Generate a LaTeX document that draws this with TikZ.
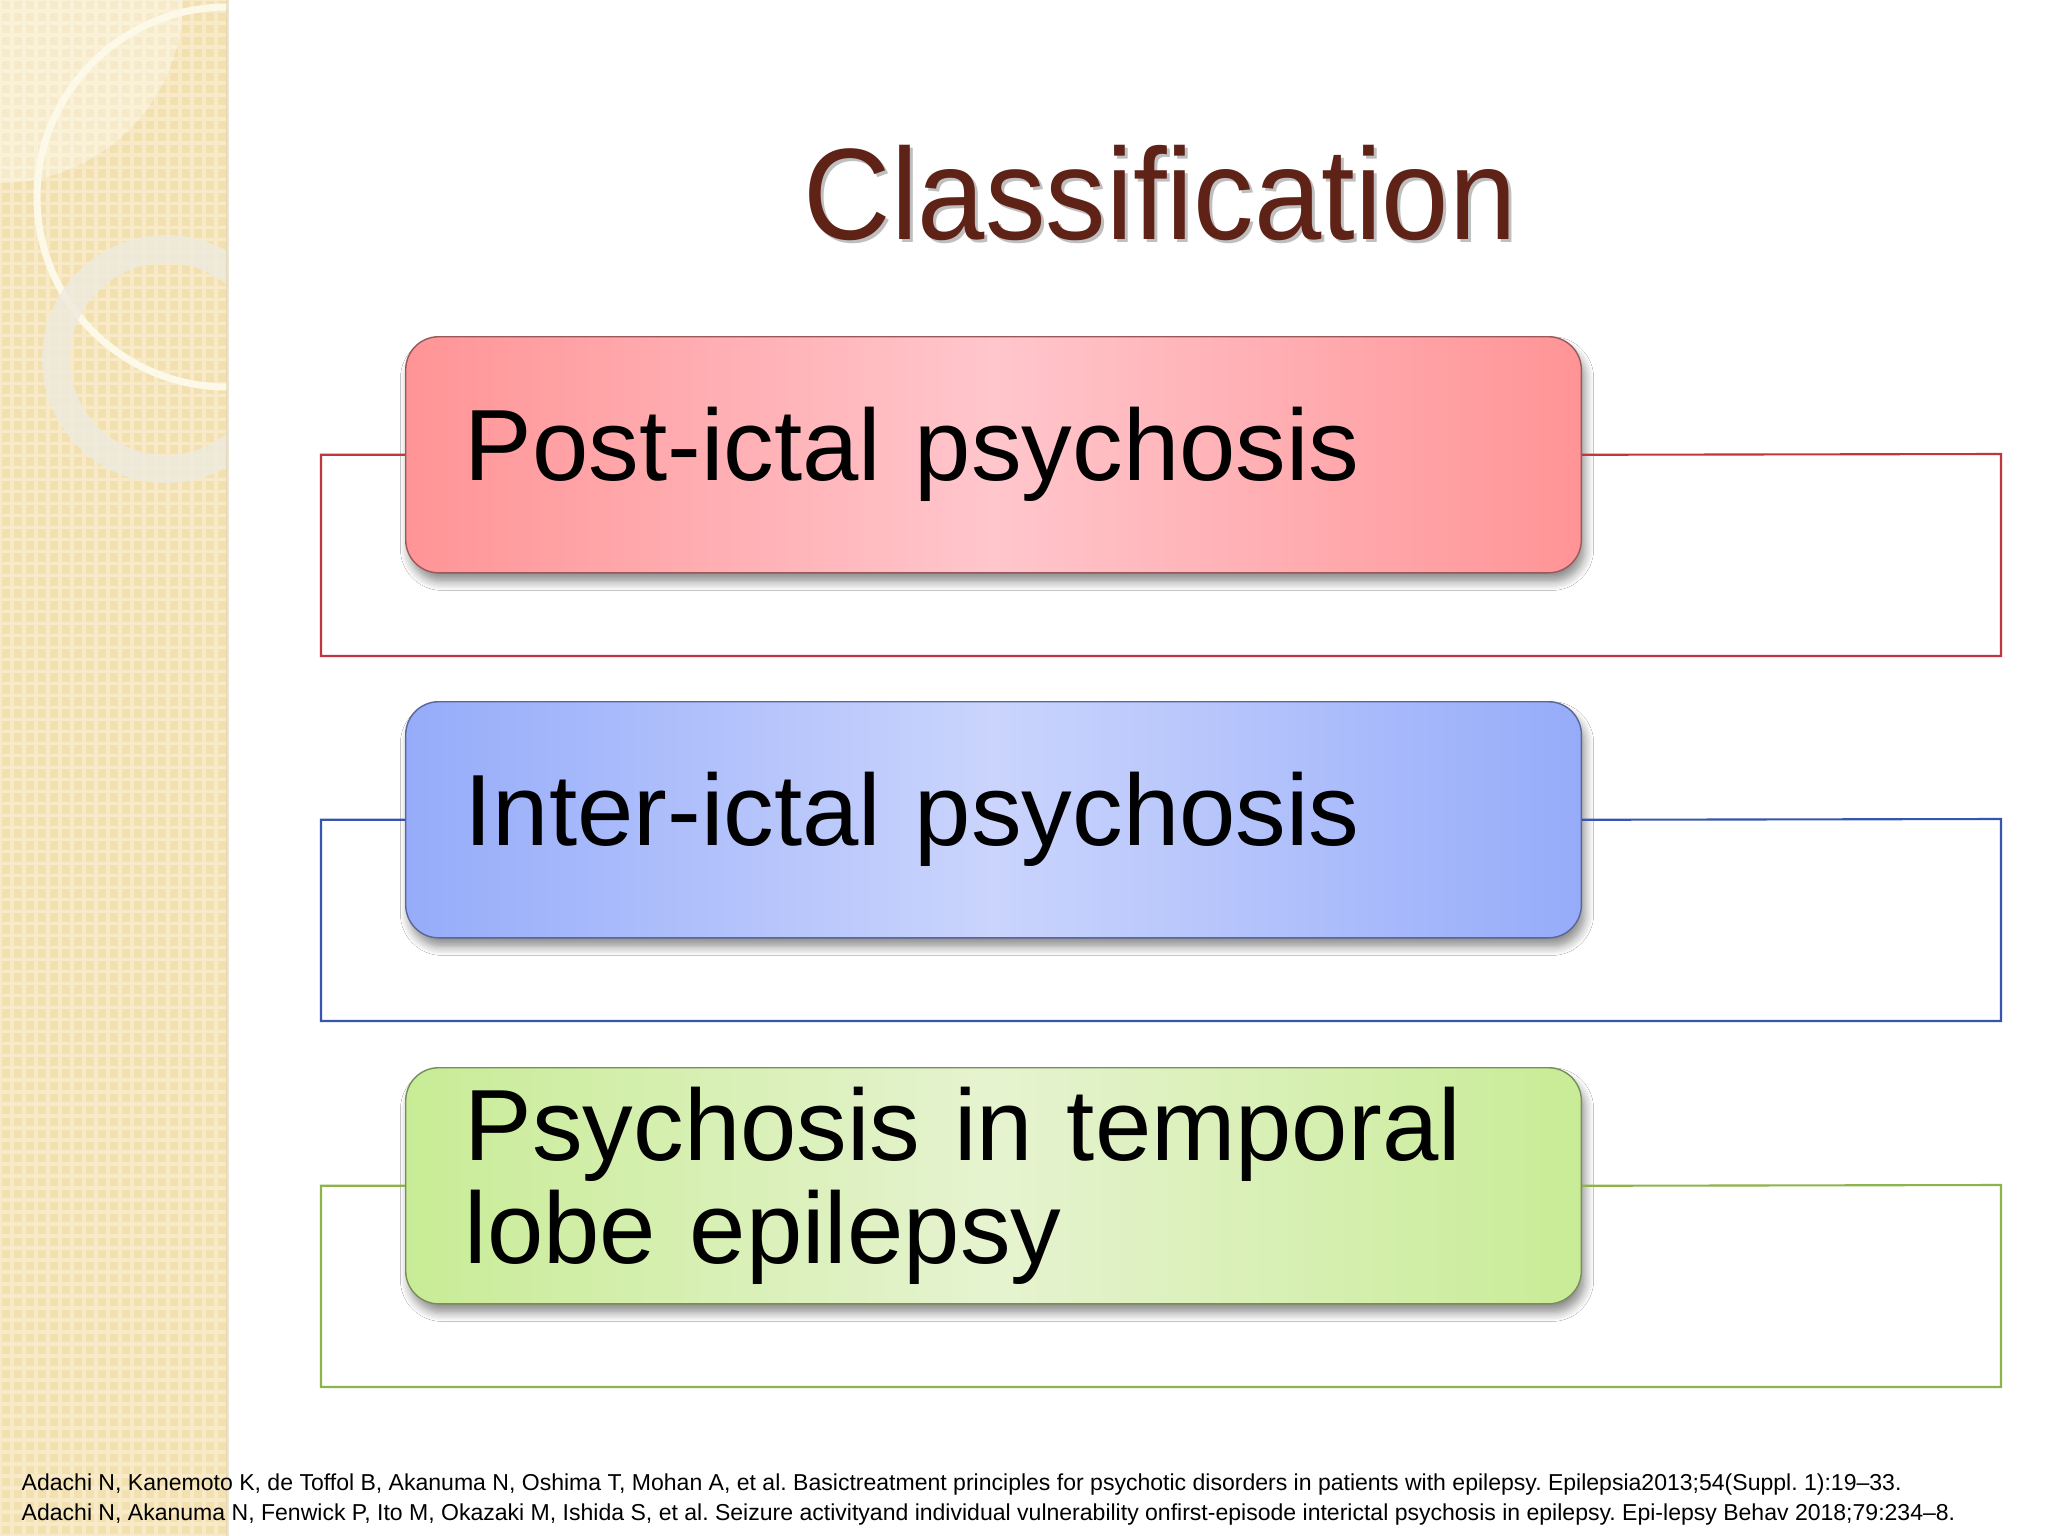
\documentclass[tikz,border=0pt]{standalone}
\usepackage{fontspec}
\setmainfont{Liberation Sans}
\newfontfamily\titlefont[FakeStretch=0.93]{Liberation Sans}
\usetikzlibrary{shadows, shadows.blur, patterns.meta}
\frenchspacing

\definecolor{stripbg}{RGB}{242,224,176}
\definecolor{stripgrid}{RGB}{248,234,198}
\definecolor{ringcream}{RGB}{253,249,232}
\definecolor{ringgrey}{RGB}{238,234,222}
\definecolor{titlebrown}{RGB}{94,34,22}
\definecolor{pinkedge}{RGB}{255,148,150}
\definecolor{pinkmid}{RGB}{255,198,204}
\definecolor{redline}{RGB}{190,55,60}
\definecolor{blueedge}{RGB}{150,172,250}
\definecolor{bluemid}{RGB}{202,212,252}
\definecolor{blueline}{RGB}{55,85,175}
\definecolor{greenedge}{RGB}{200,236,150}
\definecolor{greenmid}{RGB}{230,243,208}
\definecolor{greenline}{RGB}{140,180,75}

\tikzset{
  catbox/.style={rounded corners=0.33cm, minimum width=11.75cm, minimum height=2.36cm,
    text width=10.57cm, inner xsep=0.59cm, inner ysep=0pt, align=left, anchor=north west,
    font=\fontsize{28.8}{29.3}\selectfont,
    blur shadow={shadow xshift=1pt, shadow yshift=-2.5pt, shadow blur radius=2.5pt,
      shadow blur steps=8, shadow opacity=45}},
  frameline/.style={line width=0.6pt},
  refnote/.style={anchor=base west, inner sep=0pt, font=\fontsize{6.55}{6.55}\selectfont},
}

\begin{document}
\begin{tikzpicture}[x=0.01cm, y=-0.01cm]
  \useasboundingbox (0,0) rectangle (2048,1536);
  \fill[white] (0,0) rectangle (2048,1536);

  % left strip
  \fill[stripbg] (0,0) rectangle (227,1536);
  \fill[pattern={Lines[distance=0.12cm, line width=0.035cm, angle=0]}, pattern color=stripgrid]
    (0,0) rectangle (227,1536);
  \fill[pattern={Lines[distance=0.12cm, line width=0.035cm, angle=90]}, pattern color=stripgrid]
    (0,0) rectangle (227,1536);
  \begin{scope}
    \clip (0,0) rectangle (227,1536);
    \fill[white, opacity=0.35] (0,0) circle (183);
    \draw[ringcream, line width=0.07cm] (227,197) circle (190);
    \fill[ringgrey, opacity=0.85, even odd rule] (166,359) circle (124) (166,359) circle (96);
  \end{scope}
  \draw[stripbg!85!black, opacity=0.4, line width=0.03cm] (227,0) -- (227,1536);

  % title
  \node[anchor=base west, inner sep=0pt, black, opacity=0.25, font=\titlefont\fontsize{37}{37}\selectfont]
    (titleshadow) at (806,242) {Classification};
  \node[anchor=base west, inner sep=0pt, titlebrown, font=\titlefont\fontsize{37}{37}\selectfont]
    (title) at (803,239) {Classification};

  % boxes
  \coordinate (r1) at (405,336);
  \coordinate (r2) at (405,701);
  \coordinate (r3) at (405,1067);

  \node[catbox, left color=pinkedge, right color=pinkedge, middle color=pinkmid,
    draw=pinkedge!60!black] (post) at (r1) {Post-ictal psychosis};
  \node[catbox, left color=blueedge, right color=blueedge, middle color=bluemid,
    draw=blueedge!60!black] (inter) at (r2) {Inter-ictal psychosis};
  \node[catbox, left color=greenedge, right color=greenedge, middle color=greenmid,
    draw=greenedge!60!black] (temporal) at (r3) {Psychosis in temporal\\lobe epilepsy};

  % frames
  \draw[frameline, redline] (post.west) -| (321,656) -| (2001,454) -- (post.east);
  \draw[frameline, blueline] (inter.west) -| (321,1021) -| (2001,819) -- (inter.east);
  \draw[frameline, greenline] (temporal.west) -| (321,1387) -| (2001,1185) -- (temporal.east);

  % references
  \node[refnote] (ref1) at (21,1490)
    {Adachi N, Kanemoto K, de Toffol B, Akanuma N, Oshima T, Mohan A, et al. Basictreatment principles for psychotic disorders in patients with epilepsy. Epilepsia2013;54(Suppl. 1):19–33.};
  \node[refnote] (ref2) at (21,1520)
    {Adachi N, Akanuma N, Fenwick P, Ito M, Okazaki M, Ishida S, et al. Seizure activityand individual vulnerability onfirst-episode interictal psychosis in epilepsy. Epi-lepsy Behav 2018;79:234–8.};
\end{tikzpicture}
\end{document}
